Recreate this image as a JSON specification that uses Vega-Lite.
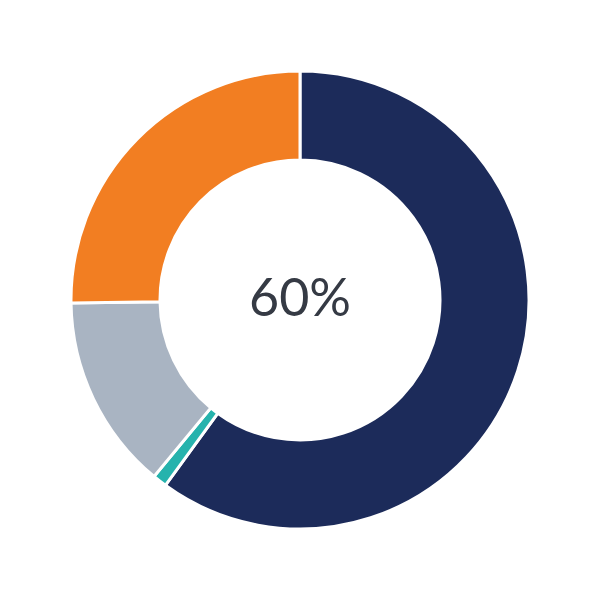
{
  "$schema": "https://vega.github.io/schema/vega-lite/v6.json",
  "autosize": {"type": "fit", "contains": "padding"},
  "width": 600,
  "height": 600,
  "padding": 0,
  "background": "white",
  "view": {"stroke": null},
  "layer": [
    {
      "data": {
        "values": [
          {"segment": "A", "value": 60, "rank": 1},
          {"segment": "B", "value": 1, "rank": 2},
          {"segment": "C", "value": 13.8, "rank": 3},
          {"segment": "D", "value": 25.2, "rank": 4}
        ]
      },
      "mark": {"type": "arc", "outerRadius": 229, "innerRadius": 140, "stroke": "white", "strokeWidth": 3},
      "encoding": {
        "theta": {"field": "value", "type": "quantitative", "stack": true},
        "order": {"field": "rank", "type": "quantitative"},
        "color": {
          "field": "segment",
          "type": "nominal",
          "scale": {"domain": ["A", "B", "C", "D"], "range": ["#1c2b5a", "#26b3ad", "#a9b4c2", "#f27e22"]},
          "legend": null
        }
      }
    },
    {
      "data": {"values": [{"label": "60%"}]},
      "mark": {"type": "text", "font": "Lato", "fontWeight": "normal", "fontSize": 52, "color": "#353a44", "baseline": "middle", "align": "center"},
      "encoding": {"text": {"field": "label"}}
    }
  ]
}
